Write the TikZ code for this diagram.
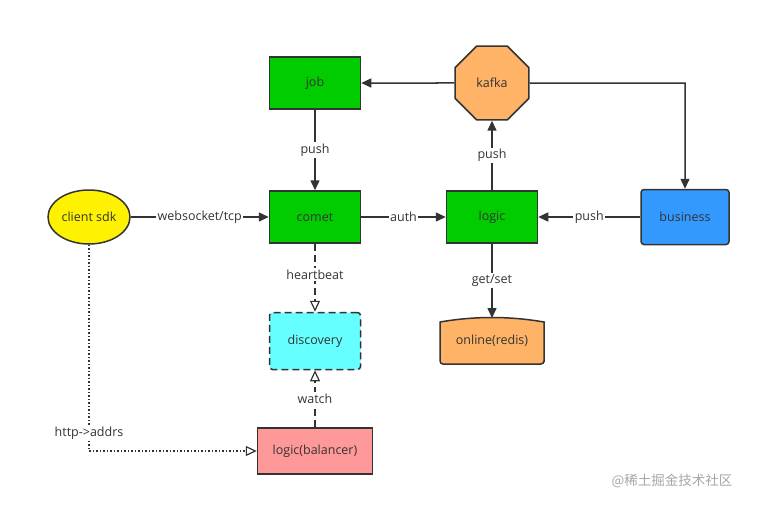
\documentclass[tikz,border=0pt]{standalone}
\usepackage{fontspec}
\setmainfont{Open Sans}
\newfontfamily\cjk{Noto Sans CJK SC}
\usetikzlibrary{shapes.geometric,arrows.meta}
\definecolor{boxgreen}{HTML}{00CC00}
\definecolor{stroke}{HTML}{333333}
\definecolor{orangefill}{HTML}{FFB366}
\begin{document}
\begin{tikzpicture}[x=1pt, y=-1pt, font=\fontsize{12.5}{14}\selectfont, text=stroke,
  box/.style={draw=stroke, line width=1.5pt, minimum width=91pt, minimum height=52pt, inner sep=0pt},
  conn/.style={draw=stroke, line width=1.5pt, -{Triangle[length=10pt, width=9pt]}},
  hollow/.style={draw=stroke, line width=1.5pt, -{Triangle[open, length=11pt, width=10pt, line width=1.2pt]}},
  ldash/.style={dash pattern=on 7pt off 4pt},
  lbl/.style={fill=white, inner sep=1.5pt}]
  \useasboundingbox (0,0) rectangle (761,506);
  \node[box, fill=boxgreen] (job) at (315,83) {job};
  \node[box, fill=boxgreen] (comet) at (315,217) {comet};
  \node[box, fill=boxgreen] (logic) at (492,217) {logic};
  \node[box, fill={rgb,255:red,51;green,153;blue,255}, rounded corners=3pt, minimum width=88pt, minimum height=55pt] (business) at (685,217) {business};
  \node[draw=stroke, line width=1.5pt, ellipse, fill=yellow, minimum width=82pt, minimum height=54pt, inner sep=0pt] (client) at (89,217) {client sdk};
  \node[draw=stroke, line width=1.5pt, regular polygon, regular polygon sides=8, fill=orangefill, minimum size=80pt, inner sep=0pt] (kafka) at (492,83) {kafka};
  \node[box, fill={rgb,255:red,102;green,255;blue,255}, ldash, rounded corners=3pt, minimum height=57pt] (discovery) at (315,341) {discovery};
  \node[box, fill={rgb,255:red,255;green,153;blue,153}, minimum width=115pt, minimum height=46pt] (balancer) at (315,451) {logic(balancer)};
  % online(redis)
  \fill[orangefill, draw=stroke, line width=1.5pt] (440,322) .. controls (475,316) and (509,316) .. (544,322) -- (544,362) [rounded corners=3pt] -- (544,364) -- (440,364) [sharp corners] -- cycle;
  \node (online) at (492,341) {online(redis)};
  \coordinate (onlinetop) at (492,318);
  \coordinate (corner) at (685,83);
  \coordinate (bend) at (89,451);
  % connectors
  \draw[conn] (kafka) -- (job);
  \draw[conn] (kafka.east) -- (corner) -- (business);
  \draw[conn] (business) -- node[lbl] {push} (logic);
  \draw[conn] (logic) -- node[lbl] {push} (kafka);
  \draw[conn] (job) -- node[lbl] {push} (comet);
  \draw[conn] (client) -- node[lbl] {websocket/tcp} (comet);
  \draw[conn] (comet) -- node[lbl] {auth} (logic);
  \draw[conn] (logic) -- node[lbl] {get/set} (onlinetop);
  \draw[hollow, ldash] (comet) -- node[lbl, pos=0.45] {heartbeat} (discovery);
  \draw[hollow, ldash] (balancer) -- node[lbl] {watch} (discovery);
  \draw[hollow, dotted] (client) -- (bend) -- (balancer);
  \node[lbl] (addrs) at (89,433) {http->addrs};
  \node[text=gray!70, font=\cjk\fontsize{13.5}{15}\selectfont] (mark) at (672,481) {@稀土掘金技术社区};
\end{tikzpicture}
\end{document}
